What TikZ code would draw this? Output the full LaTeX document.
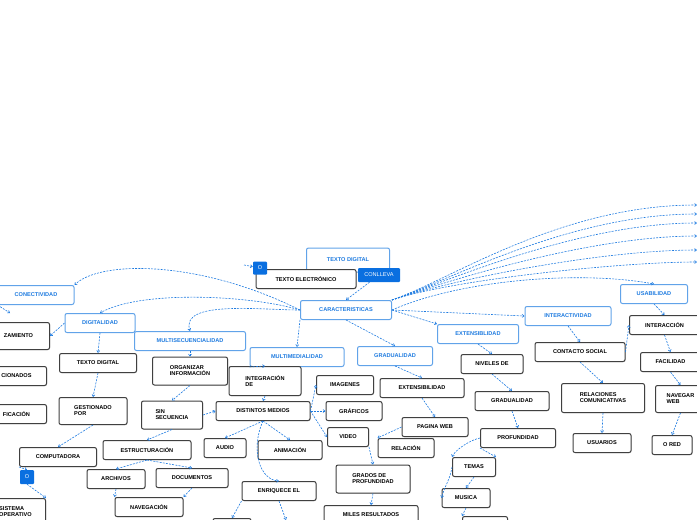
\documentclass[tikz,border=0pt]{standalone}
\usepackage{fontspec}
\setmainfont{Liberation Sans}
\usetikzlibrary{arrows.meta}
\definecolor{bl}{HTML}{1E7BE0}
\definecolor{bf}{HTML}{0A6FE0}
\tikzset{
 base/.style={rounded corners=2pt,fill=white,font=\fontsize{5.6}{6}\selectfont\bfseries,inner sep=2pt,align=left},
 bnode/.style={base,draw=bl!70,line width=1pt,text=bl,minimum height=19pt},
 knode/.style={base,draw=black!75,line width=1pt,text=black,minimum height=19pt,drop shadow={shadow xshift=0.6pt,shadow yshift=-0.6pt,fill=black!40}},
 tag/.style={fill=bf,text=white,font=\fontsize{5.6}{6}\selectfont,rounded corners=1pt,inner sep=2pt},
 ln/.style={bl,dashed,dash pattern=on 2pt off 1.2pt,line width=0.6pt,-{Straight Barb[length=2pt,width=3pt]}}
}
\usetikzlibrary{shadows}
\begin{document}
\begin{tikzpicture}[x=1pt,y=-1pt]
\useasboundingbox (0,0) rectangle (697,520);
% blue nodes
\node[bnode,minimum width=83pt,minimum height=24pt] (td) at (348,260) {TEXTO DIGITAL};
\node[knode,minimum width=100pt] (te) at (306,279) {TEXTO ELECTRÓNICO};
\node[tag,minimum width=14pt,minimum height=13pt] (o1) at (260,268) {O};
\node[tag,minimum width=42pt,minimum height=14pt] (con) at (379,275) {CONLLEVA};
\node[bnode,minimum width=91pt] (car) at (346,310) {CARACTERISTICAS};
\node[bnode,minimum width=76pt] (cnx) at (36,295) {CONECTIVIDAD};
\node[bnode,minimum width=70pt] (dig) at (100,323) {DIGITALIDAD};
\node[bnode,minimum width=111pt] (msc) at (190,341) {MULTISECUENCIALIDAD};
\node[bnode,minimum width=94pt] (mmd) at (297,357) {MULTIMEDIALIDAD};
\node[bnode,minimum width=75pt] (gra) at (395,356) {GRADUALIDAD};
\node[bnode,minimum width=81pt] (ext) at (478,334) {EXTENSIBLIDAD};
\node[bnode,minimum width=86pt] (inter) at (568,316) {INTERACTIVIDAD};
\node[bnode,minimum width=67pt] (usa) at (654,294) {USABILIDAD};
% left branch
\node[knode,minimum width=62pt,minimum height=27pt,anchor=east] (zam) at (50,336) {ZAMIENTO};
\node[knode,minimum width=60pt,anchor=east] (cio) at (47,376) {CIONADOS};
\node[knode,minimum width=60pt,anchor=east] (fic) at (47,414) {FICACIÓN};
\node[knode,minimum width=77pt] (tdg) at (98,363) {TEXTO DIGITAL};
\node[knode,minimum width=68pt,minimum height=27pt] (ges) at (93,411) {GESTIONADO\\POR};
\node[knode,minimum width=77pt] (comp) at (58,457) {COMPUTADORA};
\node[tag,minimum width=14pt,minimum height=14pt] (o2) at (27,477) {O};
\node[knode,minimum width=60pt,minimum height=27pt,anchor=east] (so) at (46,512) {SISTEMA\\OPERATIVO};
\node[knode,minimum width=75pt,minimum height=28pt] (org) at (190,371) {ORGANIZAR\\INFORMACIÓN};
\node[knode,minimum width=61pt,minimum height=28pt] (sin) at (172,415) {SIN\\SECUENCIA};
\node[knode,minimum width=88pt] (est) at (147,450) {ESTRUCTURACIÓN};
\node[knode,minimum width=58pt] (arc) at (116,479) {ARCHIVOS};
\node[knode,minimum width=72pt] (doc) at (192,478) {DOCUMENTOS};
\node[knode,minimum width=68pt] (nav) at (149,507) {NAVEGACIÓN};
\node[knode,minimum width=72pt,minimum height=29pt] (int) at (265,381) {INTEGRACIÓN\\DE};
\node[knode,minimum width=94pt] (dm) at (263,411) {DISTINTOS MEDIOS};
\node[knode,minimum width=42pt] (aud) at (225,448) {AUDIO};
\node[knode,minimum width=64pt] (ani) at (290,450) {ANIMACIÓN};
\node[knode,minimum width=74pt] (enr) at (279,491) {ENRIQUECE EL};
\node[knode,minimum width=38pt] (b1) at (232,528) {};
\node[knode,minimum width=35pt] (b2) at (286,530) {};
\node[knode,minimum width=57pt] (img) at (345,385) {IMAGENES};
\node[knode,minimum width=56pt] (grf) at (354,411) {GRÁFICOS};
\node[knode,minimum width=41pt] (vid) at (348,437) {VIDEO};
% gradualidad branch
\node[knode,minimum width=84pt] (exb) at (422,388) {EXTENSIBILIDAD};
\node[knode,minimum width=66pt] (pw) at (435,427) {PAGINA WEB};
\node[knode,minimum width=56pt] (rel) at (406,448) {RELACIÓN};
\node[knode,minimum width=74pt,minimum height=28pt] (gdp) at (373,479) {GRADOS DE\\PROFUNDIDAD};
\node[knode,minimum width=94pt] (mil) at (371,515) {MILES RESULTADOS};
\node[knode,minimum width=62pt] (niv) at (492,364) {NIVELES DE};
\node[knode,minimum width=74pt] (grd2) at (512,401) {GRADUALIDAD};
\node[knode,minimum width=75pt] (pro) at (518,438) {PROFUNDIDAD};
\node[knode,minimum width=43pt] (tem) at (474,467) {TEMAS};
\node[knode,minimum width=48pt] (mus) at (466,498) {MUSICA};
\node[knode,minimum width=45pt] (b3) at (485,526) {};
\node[knode,minimum width=90pt] (cs) at (580,352) {CONTACTO SOCIAL};
\node[knode,minimum width=83pt,minimum height=29pt] (rc) at (603,398) {RELACIONES\\COMUNICATIVAS};
\node[knode,minimum width=58pt] (usu) at (602,443) {USUARIOS};
\node[knode,minimum width=70pt,anchor=west] (ia) at (629,325) {INTERACCIÓN};
\node[knode,minimum width=60pt,anchor=west] (fac) at (640,362) {FACILIDAD};
\node[knode,minimum width=50pt,minimum height=27pt,anchor=west] (nw) at (655,399) {NAVEGAR\\WEB};
\node[knode,minimum width=40pt] (ored) at (672,445) {O RED};
% connectors
\draw[ln] (con) -- (car.north);
\draw[ln] (244,265) -- (o1);
\draw[ln] (car.west) .. controls (200,260) and (100,260) .. (cnx.north east);
\draw[ln] (car.west) .. controls (250,295) and (140,290) .. (dig.north);
\draw[ln] (car.west) .. controls (260,310) and (180,300) .. (msc.north);
\draw[ln] (car.south west) -- (mmd.north);
\draw[ln] (car.south) -- (gra.north);
\draw[ln] (car.east) -- (ext.north west);
\draw[ln] (car.east) -- (inter.west);
\draw[ln] (car.east) .. controls (460,280) and (580,270) .. (usa.north);
\foreach \yy/\cx in {205/560,214/570,223/580,236/590,250/600,262/620}
  \draw[ln] (car.north east) .. controls (450,280) and (\cx,\yy) .. (697,\yy);
\draw[ln] (cnx.south west) -- (10,313);
\draw[ln] (dig.west) -- (zam.east);
\draw[ln] (dig.south) -- (tdg.north);
\draw[ln] (tdg.south) -- (ges.north);
\draw[ln] (ges.south) -- (comp.north);
\draw[ln] (comp.south west) -- (o2.north);
\draw[ln] (o2.south) -- (so.north east);
\draw[ln] (msc.south) -- (org.north);
\draw[ln] (org.south) -- (sin.north);
\draw[ln] (sin.east) -- (dm.west);
\draw[ln] (sin.south) -- (est.north);
\draw[ln] (est.south) -- (arc.north);
\draw[ln] (est.south) -- (doc.north);
\draw[ln] (arc.south) -- (nav.north west);
\draw[ln] (doc.south) -- (nav.north east);
\draw[ln] (mmd.south west) -- (int.north);
\draw[ln] (int.south) -- (dm.north);
\draw[ln] (dm.south) -- (aud.north);
\draw[ln] (dm.south) -- (ani.north);
\draw[ln] (dm.east) -- (img.west);
\draw[ln] (dm.east) -- (grf.west);
\draw[ln] (dm.east) -- (vid.west);
\draw[ln] (dm.south) .. controls (250,450) and (260,480) .. (enr.north);
\draw[ln] (enr.south west) -- (b1.north);
\draw[ln] (enr.south) -- (b2.north);
\draw[ln] (gra.south) -- (exb.north);
\draw[ln] (exb.south) -- (pw.north);
\draw[ln] (pw.west) -- (rel.north west);
\draw[ln] (vid.south east) -- (gdp.north);
\draw[ln] (gdp.south) -- (mil.north);
\draw[ln] (ext.south) -- (niv.north);
\draw[ln] (niv.south) -- (grd2.north);
\draw[ln] (grd2.south) -- (pro.north);
\draw[ln] (pro.west) .. controls (470,440) and (455,450) .. (tem.north west);
\draw[ln] (pro.south west) -- (tem.north east);
\draw[ln] (tem.west) .. controls (450,480) and (445,485) .. (mus.west);
\draw[ln] (tem.south) -- (mus.north);
\draw[ln] (mus.south) -- (b3.north west);
\draw[ln] (inter.south) -- (cs.north);
\draw[ln] (cs.south) -- (rc.north);
\draw[ln] (rc.south) -- (usu.north);
\draw[ln] (cs.east) -- (ia.west);
\draw[ln] (usa.south) -- (ia.north);
\draw[ln] (ia.south) -- (fac.north);
\draw[ln] (fac.south) -- (nw.north);
\draw[ln] (nw.south) -- (ored.north);
\end{tikzpicture}
\end{document}
